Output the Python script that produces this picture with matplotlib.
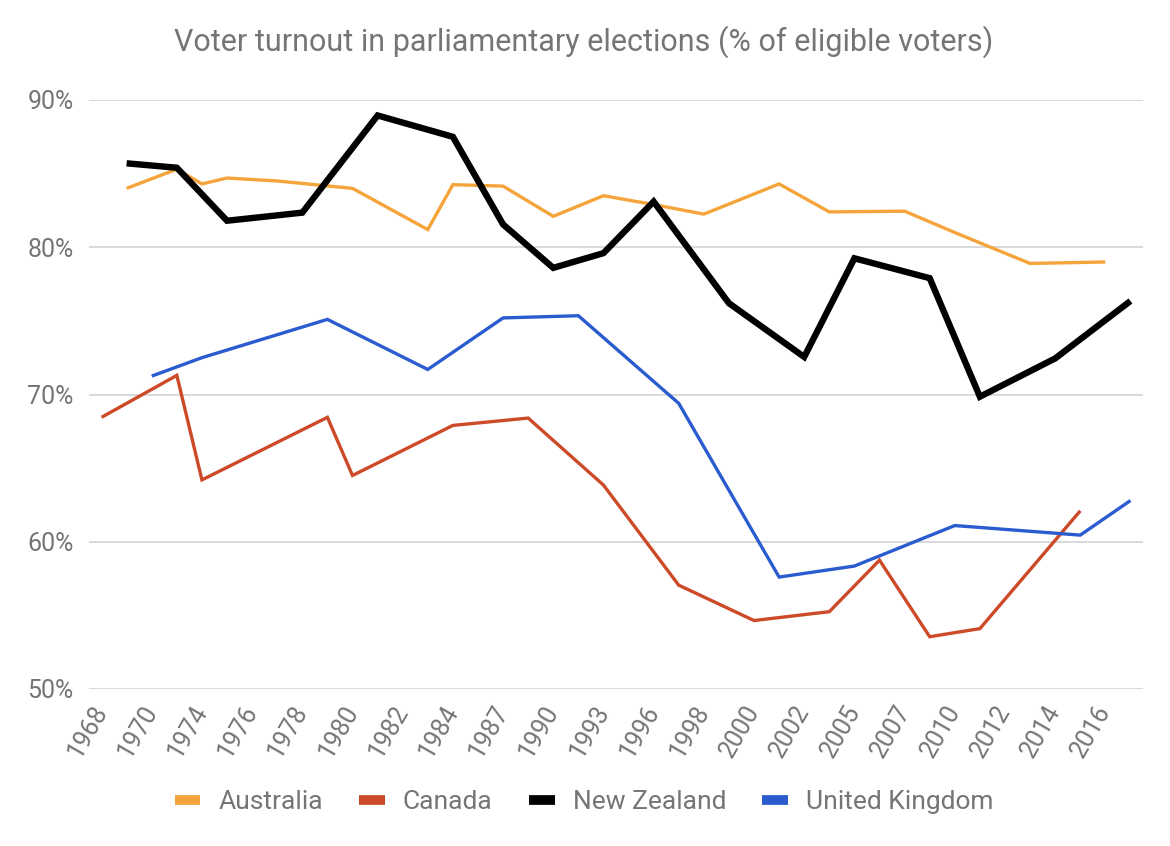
import matplotlib
matplotlib.use("Agg")
import matplotlib.pyplot as plt
from matplotlib.lines import Line2D
import matplotlib.transforms as mtransforms
import numpy as np

plt.rcParams['font.family'] = ['Roboto', 'DejaVu Sans']

categories = ['1968', '1969', '1970', '1972', '1974', '1975', '1976', '1977', '1978', '1979',
              '1980', '1981', '1982', '1983', '1984', '1986', '1987', '1988', '1990', '1992',
              '1993', '1995', '1996', '1997', '1998', '1999', '2000', '2001', '2002', '2004',
              '2005', '2006', '2007', '2008', '2010', '2011', '2012', '2013', '2014', '2015',
              '2016', '2017']

australia_years = ['1969', '1972', '1974', '1975', '1977', '1980', '1983', '1984', '1987', '1990',
                   '1993', '1996', '1998', '2001', '2004', '2007', '2010', '2013', '2016']
australia_turnout = [84.0, 85.3, 84.3, 84.7, 84.5, 84.0, 81.2, 84.25, 84.15, 82.1,
                     83.5, 82.9, 82.25, 84.3, 82.4, 82.45, 81.0, 78.9, 79.0]

canada_years = ['1968', '1972', '1974', '1979', '1980', '1984', '1988', '1993', '1997', '2000',
                '2004', '2006', '2008', '2011', '2015']
canada_turnout = [68.45, 71.3, 64.2, 68.45, 64.5, 67.9, 68.4, 63.85, 57.05, 54.65,
                  55.25, 58.75, 53.55, 54.1, 62.1]

nz_years = ['1969', '1972', '1975', '1978', '1981', '1984', '1987', '1990', '1993', '1996',
            '1999', '2002', '2005', '2008', '2011', '2014', '2017']
nz_turnout = [85.7, 85.4, 81.8, 82.35, 88.95, 87.5, 81.55, 78.6, 79.6, 83.1,
              76.2, 72.55, 79.25, 77.9, 69.85, 72.45, 76.35]

uk_years = ['1970', '1974', '1979', '1983', '1987', '1992', '1997', '2001', '2005', '2010',
            '2015', '2017']
uk_turnout = [71.25, 72.5, 75.1, 71.7, 75.2, 75.35, 69.4, 57.6, 58.35, 61.1, 60.45, 62.8]

series_names = ['Australia', 'Canada', 'New Zealand', 'United Kingdom']
series_colors = ['#F4A43A', '#CD4A29', '#000000', '#2A5BCF']
series_widths = [2.4, 2.4, 4.6, 2.4]

y_ticks = [50, 60, 70, 80, 90]
y_tick_labels = ['50%', '60%', '70%', '80%', '90%']

fig = plt.figure(figsize=(11.7, 8.46), dpi=100)
ax = fig.add_axes([89 / 1170, 1 - 689 / 846, (1143 - 89) / 1170, (689 - 100) / 846])

gray = '#757575'
series_data = [(australia_years, australia_turnout), (canada_years, canada_turnout),
               (nz_years, nz_turnout), (uk_years, uk_turnout)]
for i, ((yrs, vals), name, col, lw) in enumerate(zip(series_data, series_names,
                                                       series_colors, series_widths)):
    xs = [categories.index(y) for y in yrs]
    ax.plot(xs, vals, color=col, linewidth=lw, solid_joinstyle='miter',
            solid_capstyle='butt', zorder=3 + i, label=name)

ax.set_xlim(-0.5, len(categories) - 0.5)
ax.set_ylim(50, 90)
ax.set_yticks(y_ticks)
ax.set_yticklabels(y_tick_labels)
ax.yaxis.grid(True, color='#d0d0d0', linewidth=1.1, zorder=1)
ax.set_axisbelow(True)
for s in ax.spines.values():
    s.set_visible(False)

tick_idx = list(range(0, len(categories), 2))
ax.set_xticks(tick_idx)
ax.set_xticklabels([categories[i] for i in tick_idx], rotation=60, ha='right',
                   va='center', rotation_mode='anchor')
offset = mtransforms.ScaledTranslation(9 / 100, 0, fig.dpi_scale_trans)
for lab in ax.get_xticklabels():
    lab.set_transform(lab.get_transform() + offset)

ax.tick_params(axis='both', length=0, labelsize=18, labelcolor=gray)
ax.tick_params(axis='y', pad=11)
ax.tick_params(axis='x', pad=13)

fig.text(584 / 1170, 1 - 42 / 846, 'Voter turnout in parliamentary elections (% of eligible voters)',
         ha='center', va='center', fontsize=22, color=gray)

handles = [Line2D([0], [0], color=c, linewidth=7, solid_capstyle='butt') for c in series_colors]
fig.legend(handles, series_names, loc='center', bbox_to_anchor=(584 / 1170, 1 - 802 / 846),
           ncol=4, frameon=False, fontsize=19, labelcolor=gray, handlelength=0.98,
           handletextpad=0.68, columnspacing=1.37)

fig.savefig('out.png', dpi=100)
